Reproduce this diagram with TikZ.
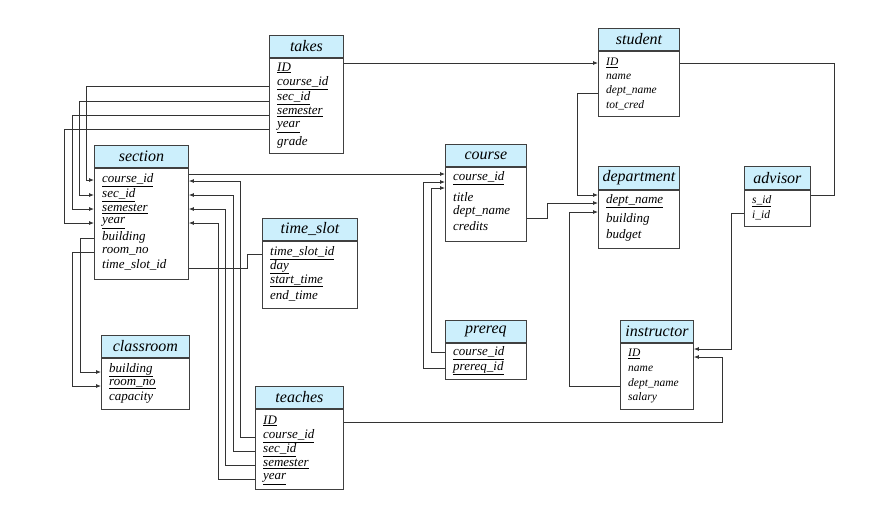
\documentclass[tikz,border=0pt]{standalone}
\usepackage{fontspec}
\setmainfont{Liberation Serif}
\usetikzlibrary{arrows.meta}
\begin{document}
\begin{tikzpicture}[x=1pt,y=-1pt,
  hdr/.style={draw=black!75,line width=0.9pt,fill=cyan!20!white,anchor=north west,inner sep=0pt,font=\fontsize{16}{17}\selectfont\itshape},
  bdy/.style={draw=black!75,line width=0.9pt,anchor=north west,inner sep=0pt},
  t/.style={anchor=west,inner sep=0pt,font=\fontsize{13}{14}\selectfont\itshape},
  ts/.style={anchor=west,inner sep=0pt,font=\fontsize{11.5}{12}\selectfont\itshape},
  ln/.style={draw=black!80,line width=0.8pt},
  ar/.style={ln,-{Latex[length=5pt,width=4pt]}}]
\useasboundingbox (0,0) rectangle (875,531);
\newcommand\tbl[7]{%
  \node[hdr,minimum width=#3pt,minimum height=#5pt] (#1h) at (#2) {#7};
  \node[bdy,minimum width=#3pt,minimum height=#6pt] (#1) at (#1h.south west) {};}
\newcommand\ul[1]{\underline{#1}}
% takes
\tbl{takes}{269,35}{74}{}{22}{95}{takes}
\node[t] at (277,68) {\ul{ID}};
\node[t] at (277,83) {\ul{course\_id}};
\node[t] at (277,98) {\ul{sec\_id}};
\node[t] at (277,112) {\ul{semester}};
\node[t] at (277,127) {\ul{year}};
\node[t] at (277,142) {grade};
% section
\tbl{section}{94,145}{94}{}{22}{111}{section}
\node[t] at (102,180) {\ul{course\_id}};
\node[t] at (102,195) {\ul{sec\_id}};
\node[t] at (102,209) {\ul{semester}};
\node[t] at (102,223) {\ul{year}};
\node[t] at (102,237) {building};
\node[t] at (102,251) {room\_no};
\node[t] at (102,265) {time\_slot\_id};
% time_slot
\tbl{timeslot}{262,218}{95}{}{22}{67}{time\_slot}
\node[t] at (270,253) {\ul{time\_slot\_id}};
\node[t] at (270,267) {\ul{day}};
\node[t] at (270,281) {\ul{start\_time}};
\node[t] at (270,296) {end\_time};
% classroom
\tbl{classroom}{101,335}{88}{}{22}{51}{classroom}
\node[t] at (109,370) {\ul{building}};
\node[t] at (109,384) {\ul{room\_no}};
\node[t] at (109,398) {capacity};
% teaches
\tbl{teaches}{255,386}{88}{}{22}{80}{teaches}
\node[t] at (263,421) {\ul{ID}};
\node[t] at (263,436) {\ul{course\_id}};
\node[t] at (263,450) {\ul{sec\_id}};
\node[t] at (263,464) {\ul{semester}};
\node[t] at (263,479) {\ul{year}};
% student
\tbl{student}{598,28}{81}{}{22}{65}{student}
\node[ts] at (606,63) {\ul{ID}};
\node[ts] at (606,77) {name};
\node[ts] at (606,91) {dept\_name};
\node[ts] at (606,105) {tot\_cred};
% course
\tbl{course}{445,144}{81}{}{22}{74}{course}
\node[t] at (453,178) {\ul{course\_id}};
\node[t] at (453,197) {title};
\node[t] at (453,211) {dept\_name};
\node[t] at (453,226) {credits};
% department
\tbl{department}{598,166}{81}{}{23}{58}{department}
\node[t] at (606,201) {\ul{dept\_name}};
\node[t] at (606,219) {building};
\node[t] at (606,235) {budget};
% advisor
\tbl{advisor}{744,166}{66}{}{23}{36}{advisor}
\node[ts] at (752,201) {\ul{s\_id}};
\node[ts] at (752,215) {i\_id};
% prereq
\tbl{prereq}{445,320}{81}{}{22}{36}{prereq}
\node[t] at (453,353) {\ul{course\_id}};
\node[t] at (453,368) {\ul{prereq\_id}};
% instructor
\tbl{instructor}{620,320}{73}{}{22}{66}{instructor}
\node[ts] at (628,354) {\ul{ID}};
\node[ts] at (628,369) {name};
\node[ts] at (628,384) {dept\_name};
\node[ts] at (628,398) {salary};
% connectors
\draw[ar] (takes.east |- 0,63) -- (student.west |- 0,63);
\draw[ar] (takes.west |- 0,86) -| (86,180) -- (section.west |- 0,180);
\draw[ar] (takes.west |- 0,101) -| (79,195) -- (section.west |- 0,195);
\draw[ar] (takes.west |- 0,115) -| (72,209) -- (section.west |- 0,209);
\draw[ar] (takes.west |- 0,129) -| (64,223) -- (section.west |- 0,223);
\draw[ar] (section.west |- 0,238) -| (80,372) -- (classroom.west |- 0,372);
\draw[ar] (section.west |- 0,252) -| (72,386) -- (classroom.west |- 0,386);
\draw[ln] (section.east |- 0,268) -| (247,254) -- (timeslot.west |- 0,254);
\draw[ar] (teaches.west |- 0,437) -| (240,181) -- (section.east |- 0,181);
\draw[ar] (teaches.west |- 0,451) -| (233,195) -- (section.east |- 0,195);
\draw[ar] (teaches.west |- 0,465) -| (225,209) -- (section.east |- 0,209);
\draw[ar] (teaches.west |- 0,479) -| (218,223) -- (section.east |- 0,223);
\draw[ar] (section.east |- 0,174) -- (course.west |- 0,174);
\draw[ar] (prereq.west |- 0,352) -| (431,188) -- (course.west |- 0,188);
\draw[ar] (prereq.west |- 0,368) -| (423,182) -- (course.west |- 0,182);
\draw[ar] (course.east |- 0,218) -| (547,203) -- (department.west |- 0,203);
\draw[ar] (student.west |- 0,93) -| (577,195) -- (department.west |- 0,195);
\draw[ar] (instructor.west |- 0,386) -| (569,212) -- (department.west |- 0,212);
\draw[ln] (student.east |- 0,63) -| (834,195) -- (advisor.east |- 0,195);
\draw[ar] (advisor.west |- 0,213) -| (731,349) -- (instructor.east |- 0,349);
\draw[ar] (teaches.east |- 0,422) -| (722,357) -- (instructor.east |- 0,357);
\end{tikzpicture}
\end{document}
